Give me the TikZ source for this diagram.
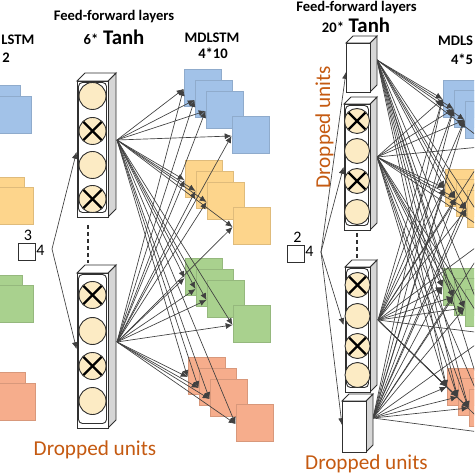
\documentclass[tikz,border=0pt]{standalone}
\usepackage{fontspec}
\setmainfont{Carlito}
\usetikzlibrary{arrows.meta}
\definecolor{bluesq}{HTML}{A2C2E8}
\definecolor{yelsq}{HTML}{FDD58C}
\definecolor{grnsq}{HTML}{A9D18E}
\definecolor{redsq}{HTML}{F6AD8C}
\definecolor{cream}{HTML}{FCEBC4}
\definecolor{dropc}{HTML}{C55A11}
\definecolor{sidegray}{HTML}{D6D6D6}
\definecolor{edgec}{HTML}{303030}
\newcommand\boxthree[5]{%
  \filldraw[fill=sidegray,draw=edgec,line width=0.45pt] (#3,#2) -- (#3+#5,#2-#5) -- (#3+#5,#4-#5) -- (#3,#4) -- cycle;
  \filldraw[fill=white,draw=edgec,line width=0.45pt] (#1,#2) -- (#1+#5,#2-#5) -- (#3+#5,#2-#5) -- (#3,#2) -- cycle;
  \filldraw[fill=white,draw=edgec,line width=0.45pt] (#1,#2) rectangle (#3,#4);
}
\newcommand\innerpanel[4]{%
  \draw[edgec,line width=0.45pt,rounded corners=2pt] (#1+1.5,#2+1.5) rectangle (#3-1.5,#4-4.5);
}
\begin{document}
\begin{tikzpicture}[x=0.5pt,y=-0.5pt,
  conn/.style={draw=black!75,line width=0.33pt,-{Latex[length=3.4pt,width=3pt]}},
  sq/.style={line width=0.3pt},
  unit/.style={circle,draw=edgec,fill=cream,line width=0.45pt,inner sep=0pt,minimum size=13.5pt},
  unitsm/.style={unit,minimum size=12.5pt},
  xmark/.style={line width=1.2pt,black,shorten >=0.6pt,shorten <=0.6pt},
  title/.style={font=\fontsize{7.3}{8}\selectfont\bfseries,anchor=base,inner sep=0pt},
  big/.style={font=\fontsize{10.4}{12}\selectfont\bfseries,anchor=base,inner sep=0pt},
  drop/.style={font=\fontsize{10.6}{12}\selectfont,text=dropc,anchor=base,inner sep=0pt},
  dig/.style={font=\fontsize{8}{9}\selectfont,anchor=base,inner sep=0pt},
  dashline/.style={draw=edgec,line width=0.6pt,dash pattern=on 2pt off 1.5pt}]
\useasboundingbox (0,0) rectangle (474,474);
\clip (0,0) rectangle (474,474);
\fill[white] (0,0) rectangle (474,474);

% ---------- left panel (MDLSTM 4*2), cropped ----------
\foreach \col/\ax/\ay/\bx/\by in {bluesq/-20/85/-6/96, yelsq/-16/177/-4/187, grnsq/-18/275/-4/285, redsq/-15/372/-2/383}{
  \filldraw[sq,fill=\col,draw=\col!88!black] (\ax,\ay) rectangle ++(40,36);
  \filldraw[sq,fill=\col,draw=\col!88!black] (\bx,\by) rectangle ++(37,37);
}
\path[draw=edgec,line width=0.45pt] (18,243) rectangle (35,260);
\node[dig] (l3) at (28,241) {3};
\node[dig,anchor=base west] (l4) at (36,256) {4};
\node[title,anchor=base west] (lmd) at (1,45) {LSTM};
\node[title,anchor=base west] (l42) at (2,63) {2};

% ---------- middle MDLSTM 4*10 squares ----------
\foreach \nm/\col/\bx/\by in {b/bluesq/184/69, y/yelsq/185/160, g/grnsq/185/258, r/redsq/188/357}{
  \foreach \i/\dx/\dy in {1/0/0,2/11/11,3/22/22,4/48/47}{
    \filldraw[sq,fill=\col,draw=\col!88!black] (\bx+\dx,\by+\dy) rectangle ++(37,37);
    \coordinate (m\nm\i) at (\bx+\dx-0.5,\by+\dy+20);
  }
}
% ---------- right MDLSTM 4*50 squares ----------
\foreach \nm/\col/\bx/\by in {b/bluesq/443/80, y/yelsq/445/169, g/grnsq/443/268, r/redsq/447/368}{
  \foreach \i/\dx/\dy in {1/0/0,2/11/10,3/22/21,4/48/47}{
    \filldraw[sq,fill=\col,draw=\col!88!black] (\bx+\dx,\by+\dy) rectangle ++(37,37);
    \coordinate (q\nm\i) at (\bx+\dx-0.5,\by+\dy+19);
  }
}

% ---------- sources ----------
\coordinate (s1) at (117,140);
\coordinate (s2) at (117,342);
\coordinate (r1) at (377,60);
\coordinate (r2) at (377,157);
\coordinate (r3) at (378,320);
\coordinate (r4) at (373,418);

\foreach \s in {s1,s2}{\foreach \c in {b,y,g,r}{\foreach \i in {1,2,3,4}{\draw[conn] (\s) -- (m\c\i);}}}
\foreach \s in {r1,r2,r3,r4}{\foreach \c in {b,y,g,r}{\foreach \i in {1,2,3,4}{\draw[conn] (\s) -- (q\c\i);}}}

% ---------- input fans ----------
\coordinate (a1) at (52,249);
\coordinate (ta) at (76.5,152);
\coordinate (tb) at (76.5,349);
\draw[conn] (a1) -- (ta);
\draw[conn] (a1) -- (tb);
\path[draw=edgec,line width=0.45pt] (287,245) rectangle (304,262);
\node[dig] (r2l) at (297.5,243) {2};
\node[dig,anchor=base west] (r4l) at (305,257) {4};
\coordinate (a2) at (321,252);
\coordinate (ua) at (346,72);
\coordinate (ub) at (343.5,167);
\coordinate (uc) at (343.5,325);
\coordinate (ud) at (342,425);
\foreach \t in {ua,ub,uc,ud}{\draw[conn] (a2) -- (\t);}

% ---------- left feed-forward column (6* Tanh) ----------
\boxthree{77}{81}{108}{217}{8}
\innerpanel{77}{81}{108}{217}
\node[unit] (u1) at (92.5,96) {};
\node[unit] (u2) at (92.5,131) {};
\node[unit] (u3) at (92.5,165) {};
\node[unit] (u4) at (92.5,199) {};
\foreach \u in {u2,u4}{\draw[xmark] (\u.north west) -- (\u.south east); \draw[xmark] (\u.north east) -- (\u.south west);}
\coordinate (d1a) at (88,225);
\coordinate (d1b) at (88,263);
\draw[dashline] (d1a) -- (d1b);
\boxthree{77}{273}{108}{428}{8}
\innerpanel{77}{273}{108}{428}
\node[unit] (v1) at (92.5,295) {};
\node[unit] (v2) at (92.5,331) {};
\node[unit] (v3) at (92.5,366) {};
\node[unit] (v4) at (92.5,401) {};
\foreach \u in {v1,v3}{\draw[xmark] (\u.north west) -- (\u.south east); \draw[xmark] (\u.north east) -- (\u.south west);}

% ---------- right feed-forward column (20* Tanh) ----------
\boxthree{346}{43}{370}{92}{7}
\boxthree{344}{104}{370}{230}{7}
\innerpanel{344}{104}{370}{230}
\node[unitsm] (w1) at (357,121) {};
\node[unitsm] (w2) at (357,151) {};
\node[unitsm] (w3) at (357,181) {};
\node[unitsm] (w4) at (357,212) {};
\foreach \u in {w1,w3}{\draw[xmark,line width=1.1pt] (\u.north west) -- (\u.south east); \draw[xmark,line width=1.1pt] (\u.north east) -- (\u.south west);}
\coordinate (d2a) at (357,233);
\coordinate (d2b) at (357,260);
\draw[dashline] (d2a) -- (d2b);
\boxthree{345}{267}{370}{392}{7}
\innerpanel{345}{267}{370}{392}
\node[unitsm] (z1) at (357.5,285) {};
\node[unitsm] (z2) at (357.5,316) {};
\node[unitsm] (z3) at (357.5,346) {};
\node[unitsm] (z4) at (357.5,375) {};
\foreach \u in {z1,z3}{\draw[xmark,line width=1.1pt] (\u.north west) -- (\u.south east); \draw[xmark,line width=1.1pt] (\u.north east) -- (\u.south west);}
\boxthree{342}{401}{366}{452}{7}

% ---------- labels ----------
\node[title] (ff1) at (114,21) {Feed-forward layers};
\node[big] (th1) at (114,45) {{\fontsize{7.3}{8}\selectfont 6*} Tanh};
\node[title] (md1) at (212,43) {MDLSTM};
\node[title] (md1n) at (213,59) {4*10};
\node[title] (ff2) at (356.5,12) {Feed-forward layers};
\node[big] (th2) at (356,33) {{\fontsize{7.3}{8}\selectfont 20*} Tanh};
\node[title,anchor=base east] (md2) at (473.5,46) {MDLS};
\node[title,anchor=base east] (md2n) at (473.5,65) {4*5};
\node[drop] (dr1) at (95,455.5) {Dropped units};
\node[drop] (dr2) at (366.5,469) {Dropped units};
\node[drop,rotate=90] (dr3) at (330,127) {Dropped units};
\end{tikzpicture}
\end{document}
